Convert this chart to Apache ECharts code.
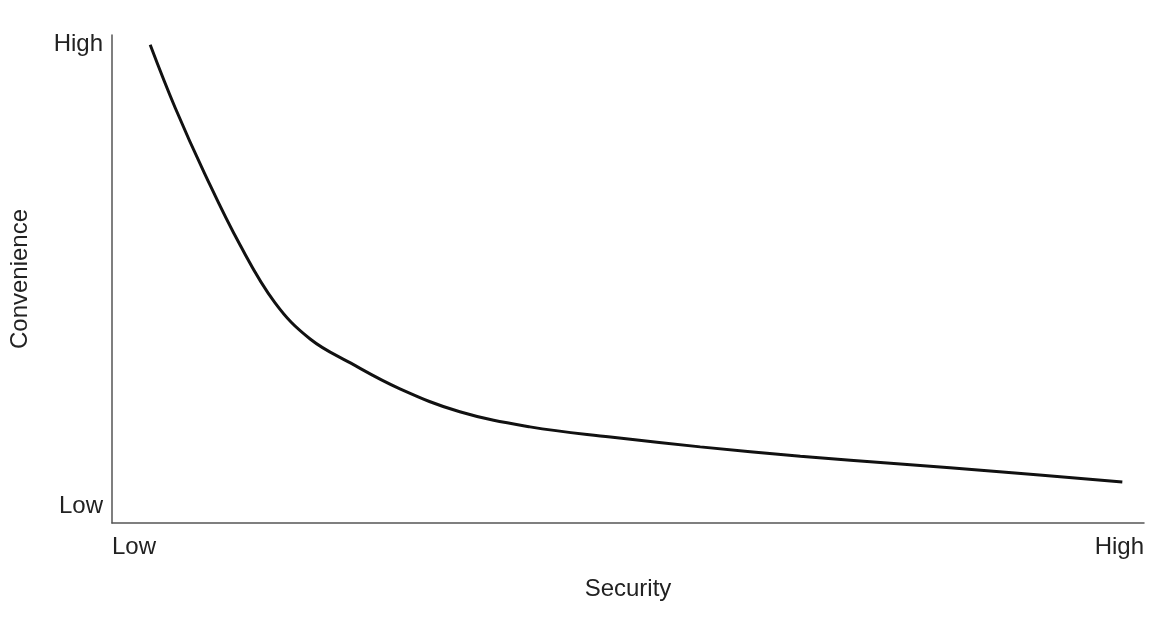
<!DOCTYPE html>
<html>
<head>
<meta charset="utf-8">
<script src="https://cdn.jsdelivr.net/npm/echarts@6/dist/echarts.min.js"></script>
<style>
  html, body { margin: 0; padding: 0; background: #fff; }
  #chart { width: 1158px; height: 618px; }
</style>
</head>
<body>
<div id="chart"></div>
<script>
// 曲线数据 (安全性 0-100, 便利性 0-100)
const securityVals = [3.7, 6.1, 9.0, 12.4, 15.8, 19.2, 23.1, 27.9, 33.7, 40.5, 48.3, 57.0, 66.7, 76.4, 86.0, 97.9];
const convenienceVals = [98.0, 85.2, 71.5, 57.0, 45.1, 37.7, 32.8, 27.5, 22.8, 19.7, 17.6, 15.6, 13.7, 12.1, 10.5, 8.4];

// 刻度标签
const xTickValues = [0, 100];
const xTickLabels = ['Low', 'High'];
const yTickValues = [3.5, 98.0];
const yTickLabels = ['Low', 'High'];

const font = 'Liberation Sans';
const textColor = '#222';

const myChart = echarts.init(document.getElementById('chart'));
myChart.setOption({
  animation: false,
  grid: { left: 112, right: 14, top: 35, bottom: 95 },
  xAxis: {
    type: 'value',
    min: 0,
    max: 100,
    name: 'Security',
    nameLocation: 'middle',
    nameGap: 54,
    nameTextStyle: { fontFamily: font, fontSize: 24, color: textColor },
    splitLine: { show: false },
    axisTick: { show: false },
    axisLine: { show: true, lineStyle: { color: '#555', width: 1.5 } },
    axisLabel: {
      customValues: xTickValues,
      alignMinLabel: 'left',
      alignMaxLabel: 'right',
      margin: 12,
      fontFamily: font, fontSize: 24, color: textColor,
      formatter: v => xTickLabels[xTickValues.indexOf(v)]
    }
  },
  yAxis: {
    type: 'value',
    min: 0,
    max: 100,
    name: 'Convenience',
    nameLocation: 'middle',
    nameGap: 80,
    nameTextStyle: { fontFamily: font, fontSize: 24, color: textColor },
    splitLine: { show: false },
    axisTick: { show: false },
    axisLine: { show: true, lineStyle: { color: '#555', width: 1.5 } },
    axisLabel: {
      customValues: yTickValues,
      margin: 9,
      fontFamily: font, fontSize: 24, color: textColor,
      formatter: v => yTickLabels[yTickValues.indexOf(v)]
    }
  },
  series: [{
    type: 'line',
    data: securityVals.map((x, i) => [x, convenienceVals[i]]),
    smooth: 0.4,
    symbol: 'none',
    lineStyle: { color: '#111', width: 3 }
  }]
});
</script>
</body>
</html>
